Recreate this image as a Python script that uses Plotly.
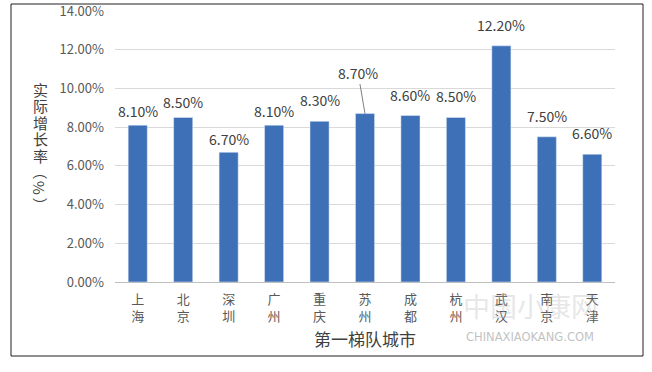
import plotly.graph_objects as go

cities = ["上海", "北京", "深圳", "广州", "重庆", "苏州", "成都", "杭州", "武汉", "南京", "天津"]
growth = [8.1, 8.5, 6.7, 8.1, 8.3, 8.7, 8.6, 8.5, 12.2, 7.5, 6.6]
y_ticks = [0, 2, 4, 6, 8, 10, 12, 14]
y_tick_text = ["0.00%", "2.00%", "4.00%", "6.00%", "8.00%", "10.00%", "12.00%", "14.00%"]
x_title = "第一梯队城市"
y_title_chars = ["实", "际", "增", "长", "率", "（", "%", "）"]

CJK = "Noto Sans CJK SC"
tick_labels = ["<br>".join(list(c)) for c in cities]

# label gap above each bar (pixels) - style only
label_gap = {"上海": 2, "北京": 3, "深圳": 1, "广州": 2}

# plot area geometry (pixels)
PLOT_TOP, PLOT_BOTTOM = 11, 282
PLOT_H = PLOT_BOTTOM - PLOT_TOP


def py(pixel_y):
    return (PLOT_BOTTOM - pixel_y) / PLOT_H


fig = go.Figure()
fig.add_trace(go.Bar(
    x=cities, y=growth, marker_color="#3E70B8", width=0.42,
    hoverinfo="skip",
))

annotations = []
for c, v in zip(cities, growth):
    label = f"{v:.2f}%"
    if c == "苏州":
        annotations.append(dict(
            x=c, y=v, xref="x", yref="y", text=label, showarrow=True,
            arrowhead=0, arrowwidth=1, arrowcolor="#7f7f7f", ax=-7, ay=-41,
            standoff=0, font=dict(family=CJK, size=14, color="#404040"),
        ))
    else:
        annotations.append(dict(
            x=c, y=v, xref="x", yref="y", text=label, showarrow=False,
            yanchor="bottom", yshift=label_gap.get(c, 9),
            font=dict(family=CJK, size=14, color="#404040"),
        ))

# x title
annotations.append(dict(
    x=0.5, y=py(338), xref="paper", yref="paper", text=x_title, showarrow=False,
    xanchor="center", yanchor="middle", font=dict(family=CJK, size=17, color="#404040"),
))
# y title: vertical stacked characters
y_start, y_step = 89, 16.5
for i, ch in enumerate(y_title_chars):
    annotations.append(dict(
        x=-0.15, y=py(y_start + i * y_step), xref="paper", yref="paper", text=ch,
        showarrow=False, xanchor="center", yanchor="middle",
        textangle=90 if i >= 5 else 0,
        font=dict(family=CJK, size=15, color="#404040"),
    ))
# watermark
annotations.append(dict(
    x=0.83, y=py(305), xref="paper", yref="paper", text="中国小康网", showarrow=False,
    xanchor="center", yanchor="middle",
    font=dict(family=CJK, size=27, color="rgba(170,170,170,0.30)"),
))
annotations.append(dict(
    x=0.83, y=py(337), xref="paper", yref="paper", text="CHINAXIAOKANG.COM", showarrow=False,
    xanchor="center", yanchor="middle",
    font=dict(family="DejaVu Sans", size=11.5, color="rgba(165,165,165,0.7)"),
))

fig.update_layout(
    width=652, height=372,
    margin=dict(l=115, r=37, t=PLOT_TOP, b=372 - PLOT_BOTTOM),
    paper_bgcolor="white", plot_bgcolor="white",
    showlegend=False,
    annotations=annotations,
    shapes=[dict(type="rect", xref="paper", yref="paper",
                 x0=-0.208, x1=1.056, y0=py(356), y1=py(4),
                 line=dict(color="#202020", width=1), fillcolor="rgba(0,0,0,0)",
                 layer="below")],
    xaxis=dict(
        tickmode="array", tickvals=cities, ticktext=tick_labels,
        showline=True, linecolor="#BFBFBF", linewidth=1, ticks="",
        showgrid=False, tickfont=dict(family=CJK, size=13, color="#595959"),
        ticklabelstandoff=5, automargin=False,
    ),
    yaxis=dict(
        range=[0, 14], tickmode="array", tickvals=y_ticks, ticktext=y_tick_text,
        showgrid=True, gridcolor="#D9D9D9", gridwidth=1, zeroline=False,
        showline=False, ticks="",
        tickfont=dict(family=CJK, size=13, color="#595959"),
        ticklabelstandoff=10, automargin=False,
    ),
)

fig.write_html("out.html")
